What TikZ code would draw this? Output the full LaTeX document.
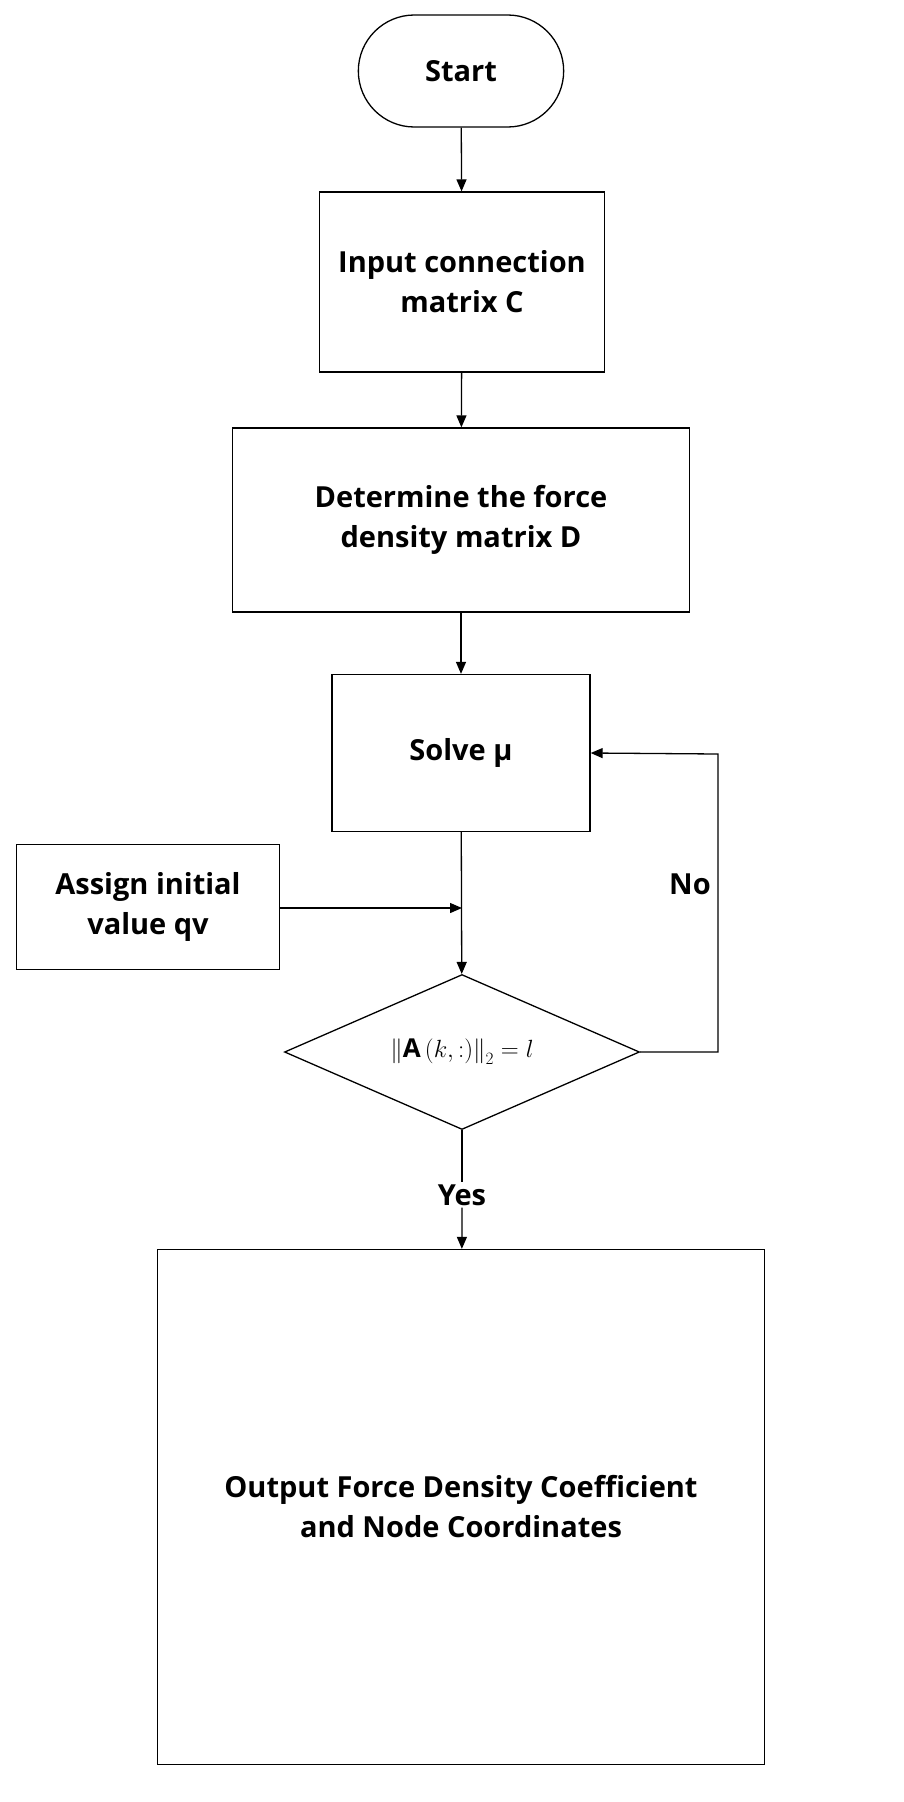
\documentclass[tikz,border=0pt]{standalone}
\usepackage{fontspec}
\setmainfont{Open Sans}
\usetikzlibrary{shapes.geometric,shapes.misc,arrows.meta}
\begin{document}
\begin{tikzpicture}[x=1pt,y=-1pt,
  box/.style={draw,line width=1.3pt,fill=white,align=center,font=\fontsize{29}{40}\selectfont\bfseries},
  arr/.style={-{Triangle[length=12pt,width=10pt]},line width=1.3pt}]
\useasboundingbox (0,0) rectangle (903,1802);
\node[box,rounded rectangle,minimum width=212pt,minimum height=112pt] (start) at (461,71) {Start};
\node[box,minimum width=285pt,minimum height=180pt] (inp) at (462,282) {Input connection\\matrix C};
\node[box,minimum width=457pt,minimum height=184pt] (det) at (461,520) {Determine the force\\density matrix D};
\node[box,minimum width=258pt,minimum height=157pt] (sol) at (461,753) {Solve \textmu};
\node[box,minimum width=263pt,minimum height=125pt] (asg) at (148,907) {Assign initial\\value qv};
\node[box,diamond,aspect=2.3,minimum width=355pt,minimum height=155pt,inner sep=0pt] (dec) at (462,1052) {\fontsize{26}{30}\selectfont\mdseries$\left\|\mathbf{A}\left(k,:\right)\right\|_2=l$};
\node[box,minimum width=607pt,minimum height=515pt] (out) at (461,1507) {Output Force Density Coefficient\\and Node Coordinates};
\node[font=\fontsize{29}{36}\selectfont\bfseries,fill=white,inner sep=2pt] (yes) at (462,1195) {Yes};
\node[font=\fontsize{29}{36}\selectfont\bfseries] (no) at (690,884) {No};
\coordinate (j) at (462,908);
\coordinate (r) at (718,1052);
\coordinate (r2) at (718,754);
\draw[arr] (start) -- (inp);
\draw[arr] (inp) -- (det);
\draw[arr] (det) -- (sol);
\draw[arr] (sol) -- (dec);
\draw[arr] (asg.east|-j) -- (j);
\draw[line width=1.3pt] (dec.south) -- (yes.north);
\draw[arr] (yes.south) -- (out);
\draw[arr] (dec.east) -- (r) -- (r2) -- (sol.east);
\end{tikzpicture}
\end{document}
